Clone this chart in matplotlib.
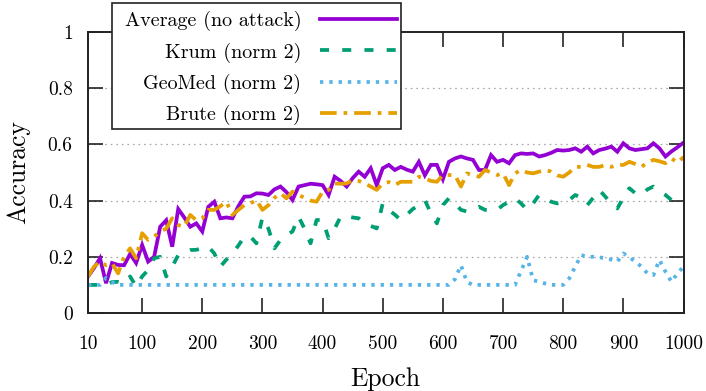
import numpy as np
import matplotlib
matplotlib.use("Agg")
import matplotlib.pyplot as plt
from matplotlib.patches import Rectangle

# accuracy per epoch (epochs 10, 20, ..., 1000)
epochs = np.arange(10, 1001, 10)

average = [
    0.13, 0.16, 0.195, 0.106, 0.178, 0.171, 0.17, 0.21, 0.178, 0.242,
    0.183, 0.2, 0.307, 0.33, 0.236, 0.37, 0.34, 0.307, 0.319, 0.29,
    0.378, 0.396, 0.337, 0.34, 0.337, 0.38, 0.414, 0.415, 0.426, 0.425,
    0.42, 0.44, 0.45, 0.43, 0.402, 0.45, 0.455, 0.46, 0.458, 0.455,
    0.42, 0.485, 0.47, 0.45, 0.48, 0.503, 0.485, 0.515, 0.455, 0.515,
    0.527, 0.509, 0.52, 0.51, 0.503, 0.538, 0.49, 0.527, 0.527, 0.476,
    0.538, 0.55, 0.557, 0.55, 0.545, 0.509, 0.509, 0.562, 0.538, 0.545,
    0.533, 0.562, 0.568, 0.566, 0.568, 0.557, 0.562, 0.57, 0.58, 0.578,
    0.58, 0.586, 0.574, 0.592, 0.568, 0.58, 0.585, 0.592, 0.574, 0.604,
    0.586, 0.58, 0.583, 0.586, 0.604, 0.586, 0.557, 0.575, 0.59, 0.606,
]

krum = [
    0.1, 0.1, 0.1, 0.1, 0.11, 0.111, 0.106, 0.13, 0.094, 0.13,
    0.153, 0.195, 0.2, 0.13, 0.165, 0.206, 0.215, 0.224, 0.225, 0.23,
    0.236, 0.212, 0.165, 0.19, 0.212, 0.24, 0.272, 0.272, 0.248, 0.34,
    0.3, 0.23, 0.26, 0.278, 0.29, 0.343, 0.3, 0.248, 0.331, 0.331,
    0.266, 0.3, 0.343, 0.345, 0.34, 0.337, 0.319, 0.31, 0.301, 0.39,
    0.367, 0.35, 0.331, 0.35, 0.37, 0.384, 0.402, 0.355, 0.319, 0.384,
    0.408, 0.39, 0.367, 0.361, 0.37, 0.378, 0.367, 0.367, 0.367, 0.384,
    0.396, 0.408, 0.39, 0.367, 0.39, 0.42, 0.408, 0.396, 0.39, 0.395,
    0.402, 0.42, 0.41, 0.384, 0.41, 0.438, 0.414, 0.39, 0.372, 0.41,
    0.444, 0.426, 0.42, 0.44, 0.45, 0.432, 0.42, 0.402, 0.402, 0.405,
]

geomed = [
    0.1, 0.1, 0.1, 0.125, 0.11, 0.1, 0.1, 0.1, 0.1, 0.1,
    0.1, 0.1, 0.1, 0.1, 0.1, 0.1, 0.1, 0.1, 0.1, 0.1,
    0.1, 0.1, 0.1, 0.1, 0.1, 0.1, 0.1, 0.1, 0.1, 0.1,
    0.1, 0.1, 0.1, 0.1, 0.1, 0.1, 0.1, 0.1, 0.1, 0.1,
    0.1, 0.1, 0.1, 0.1, 0.1, 0.1, 0.1, 0.1, 0.1, 0.1,
    0.1, 0.1, 0.1, 0.1, 0.1, 0.1, 0.1, 0.1, 0.1, 0.1,
    0.1, 0.12, 0.17, 0.11, 0.1, 0.1, 0.1, 0.1, 0.1, 0.1,
    0.1, 0.1, 0.15, 0.2, 0.117, 0.111, 0.105, 0.1, 0.1, 0.1,
    0.123, 0.165, 0.206, 0.2, 0.2, 0.198, 0.195, 0.19, 0.183, 0.212,
    0.198, 0.183, 0.165, 0.141, 0.135, 0.189, 0.147, 0.111, 0.141, 0.165,
]

brute = [
    0.13, 0.165, 0.183, 0.17, 0.177, 0.141, 0.2, 0.23, 0.195, 0.284,
    0.26, 0.272, 0.29, 0.3, 0.337, 0.313, 0.307, 0.349, 0.33, 0.337,
    0.367, 0.367, 0.38, 0.396, 0.349, 0.367, 0.384, 0.39, 0.402, 0.367,
    0.384, 0.41, 0.426, 0.408, 0.432, 0.42, 0.41, 0.4, 0.396, 0.432,
    0.438, 0.461, 0.46, 0.461, 0.473, 0.47, 0.461, 0.45, 0.438, 0.461,
    0.466, 0.455, 0.467, 0.467, 0.467, 0.485, 0.479, 0.47, 0.467, 0.491,
    0.491, 0.491, 0.45, 0.497, 0.49, 0.485, 0.509, 0.5, 0.491, 0.497,
    0.455, 0.497, 0.509, 0.5, 0.497, 0.503, 0.509, 0.503, 0.49, 0.485,
    0.5, 0.52, 0.52, 0.527, 0.52, 0.52, 0.527, 0.52, 0.527, 0.527,
    0.538, 0.53, 0.52, 0.535, 0.545, 0.54, 0.533, 0.55, 0.535, 0.555,
]

labels = ["Average (no attack)", "Krum (norm 2)", "GeoMed (norm 2)", "Brute (norm 2)"]
colors = ["#9400d3", "#009e73", "#56b4e9", "#e69f00"]

xticks = [10, 100, 200, 300, 400, 500, 600, 700, 800, 900, 1000]
yticks = [0, 0.2, 0.4, 0.6, 0.8, 1]
ytick_labels = ["0", "0.2", "0.4", "0.6", "0.8", "1"]

plt.rcParams["font.family"] = ["cmr10", "DejaVu Serif"]
plt.rcParams["axes.formatter.use_mathtext"] = True
plt.rcParams["lines.scale_dashes"] = False

W, H = 706, 391
fig = plt.figure(figsize=(W / 100, H / 100), dpi=100)
ax = fig.add_axes([88 / W, 1 - 313 / H, (683.5 - 88) / W, (313 - 32) / H])

lw = 2.7
ax.plot(epochs, average, color=colors[0], lw=lw, label=labels[0], solid_joinstyle="miter")
ax.plot(epochs, krum, color=colors[1], lw=lw, label=labels[1], dashes=(6.5, 9.5), dash_capstyle="butt")
ax.plot(epochs, geomed, color=colors[2], lw=lw, label=labels[2], dashes=(2.4, 4.3), dash_capstyle="butt")
ax.plot(epochs, brute, color=colors[3], lw=lw, label=labels[3], dashes=(12, 5, 2.6, 5), dash_capstyle="butt")

# horizontal grid only, between 0 and 1
for y in yticks[1:-1]:
    ax.axhline(y, color="#a8a8a8", lw=0.9, dashes=(1.2, 2.8), zorder=0)

ax.set_xlim(10, 1000)
ax.set_ylim(0, 1)
ax.set_xticks(xticks)
ax.set_xticklabels([str(t) for t in xticks])
ax.set_yticks(yticks)
ax.set_yticklabels(ytick_labels)
ax.tick_params(direction="in", length=11, width=1.1, top=True, right=True,
               labelsize=14, color="#111111")
ax.tick_params(axis="x", pad=16)
ax.tick_params(axis="y", pad=11)
for s in ax.spines.values():
    s.set_linewidth(1.4)
    s.set_color("#222222")

ax.set_xlabel("Epoch", fontsize=18.5, labelpad=10)
ax.set_ylabel("Accuracy", fontsize=18.5, labelpad=13)

# key box (drawn in figure coords, sticks out above the axes)
ax.add_patch(Rectangle((112 / W, 1 - 129 / H), (401 - 112) / W, (129 - 3) / H,
                       transform=fig.transFigure, facecolor="white",
                       edgecolor="#222222", lw=1.2, zorder=5, clip_on=False))
leg = ax.legend(loc="upper right", bbox_to_anchor=(397 / W, 1 - 11 / H),
                bbox_transform=fig.transFigure, markerfirst=False, fontsize=14.5,
                handlelength=3.8, handletextpad=0.95, labelspacing=0.56,
                borderpad=0, borderaxespad=0, frameon=False)
leg.set_zorder(6)

fig.savefig("out.png", dpi=100)
